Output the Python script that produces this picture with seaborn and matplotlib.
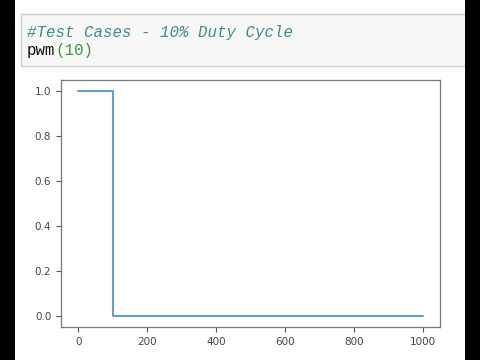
import matplotlib
matplotlib.use("Agg")
import matplotlib.pyplot as plt
from matplotlib.patches import Rectangle
import seaborn as sns
import pandas as pd

# Data: 10% duty-cycle PWM signal
sample_index = [0, 100, 100, 1000]
signal_level = [1.0, 1.0, 0.0, 0.0]
x_ticks = [0, 200, 400, 600, 800, 1000]
y_ticks = [0.0, 0.2, 0.4, 0.6, 0.8, 1.0]
comment_text = "#Test Cases - 10% Duty Cycle"
call_name = "pwm"
call_args = "(10)"

sns.set_style("white")
plt.rcParams["font.family"] = ["DejaVu Sans"]

W, H = 480, 360
fig = plt.figure(figsize=(4.8, 3.6), dpi=100)
fig.patch.set_facecolor("white")

def fx(px):
    return px / W

def fy(py):
    return 1 - py / H

# side black bars
fig.patches.append(Rectangle((0, 0), fx(15), 1, transform=fig.transFigure,
                             facecolor="black", edgecolor="none", zorder=5))
fig.patches.append(Rectangle((fx(465), 0), fx(15), 1, transform=fig.transFigure,
                             facecolor="black", edgecolor="none", zorder=5))
# code cell box (runs under the right black bar)
fig.patches.append(Rectangle((fx(20.5), fy(66)), fx(472 - 20.5), fy(14) - fy(66),
                             transform=fig.transFigure, facecolor="#f7f7f7",
                             edgecolor="#d0d0d0", linewidth=1.0, zorder=1))

mono = ["Liberation Mono", "DejaVu Sans Mono"]
fig.text(fx(27), fy(32), comment_text, family=mono, style="italic",
         fontsize=11.3, color="#3d8c8c", va="center", ha="left", zorder=3)
fig.text(fx(27), fy(51), call_name, family=mono, fontsize=11.3,
         color="#111111", va="center", ha="left", zorder=3)
fig.text(fx(27 + 9.45 * 3), fy(51), call_args, family=mono, fontsize=11.3,
         color="#3a9a3a", va="center", ha="left", zorder=3)

# plot axes
ax = fig.add_axes([fx(61), fy(327), fx(440 - 61), fy(80) - fy(327)])
df = pd.DataFrame({"sample": sample_index, "level": signal_level})
sns.lineplot(data=df, x="sample", y="level", estimator=None, sort=False,
             color="#6a9cc8", linewidth=1.5, ax=ax)
ax.set_xlim(-50, 1050)
ax.set_ylim(-0.05, 1.05)
ax.set_xticks(x_ticks)
ax.set_yticks(y_ticks)
ax.set_xticklabels([str(t) for t in x_ticks])
ax.set_yticklabels([f"{t:.1f}" for t in y_ticks])
ax.set_xlabel("")
ax.set_ylabel("")
ax.tick_params(axis="both", which="both", direction="out", length=3.5,
               width=0.8, colors="#555555", labelsize=7.5, labelcolor="#444444",
               bottom=True, left=True)
for s in ax.spines.values():
    s.set_visible(True)
    s.set_color("#777777")
    s.set_linewidth(0.9)

fig.savefig("out.png", dpi=100, facecolor="white")
